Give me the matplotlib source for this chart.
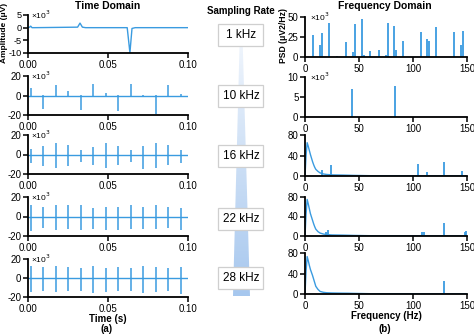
import numpy as np
import matplotlib
matplotlib.use("Agg")
import matplotlib.pyplot as plt
from matplotlib.patches import Rectangle, Polygon
from matplotlib.colors import LinearSegmentedColormap

plt.rcParams['font.family'] = ['Liberation Sans', 'DejaVu Sans']
plt.rcParams['axes.unicode_minus'] = False

# ---------------- data ----------------
sampling_rates = ['1 kHz', '10 kHz', '16 kHz', '22 kHz', '28 kHz']

# Time domain, row 1 (1 kHz), values in x10^3 uV
t_row1 = [0.000, 0.001, 0.0017, 0.0025, 0.004, 0.031, 0.0325, 0.034, 0.036,
          0.062, 0.0637, 0.065, 0.067, 0.100]
v_row1 = [0, 0.2, 0.6, 0, 0, 0.2, 1.8, 0.2, 0, 0, -9.9, -0.3, 0, 0]

# Spike times for rows 2-5 (s)
spike_t = [0.0017, 0.0094, 0.0173, 0.0250, 0.0329, 0.0406, 0.0486, 0.0563,
           0.0642, 0.0719, 0.0798, 0.0875, 0.0954]
spike_hi = [
    [8, 1, 10.5, 5, 1, 11.5, 3, 1, 12, 1, 1, 10.5, 2],
    [5.5, 8.5, 11.7, 10, 5, 7.7, 11.7, 9, 5, 9, 11.5, 10, 5],
    [11.4, 9.7, 11.4, 11.4, 11.4, 8.6, 9.7, 9.7, 11.4, 9.7, 11.4, 9.7, 8.6],
    [12.7, 11.6, 12.7, 11.6, 10.9, 12.7, 10.9, 11.6, 10.9, 12.7, 11.6, 10.9, 11.6],
]
spike_lo = [
    [-1, -14, -1, 0, -15, -1, 0, -16, -1, 0, -18.5, -1, 0],
    [-8.5, -12, -14, -12, -8, -11, -14, -11, -8, -15, -14, -11, -9],
    [-14.5, -12, -13.4, -12.8, -13.4, -12.8, -13.4, -13.4, -12.8, -12.8, -12.8, -12, -13.4],
    [-14.5, -13.8, -14.5, -13.8, -13.8, -15.3, -14.5, -13.8, -13.8, -15.3, -14.5, -13.8, -16.4],
]

# Frequency domain row 1 (x10^3 uV2/Hz)
f_row1 = [7.8, 14, 16, 22, 30, 38, 44, 46, 52.5, 54.7, 60, 68.8, 75, 77, 82.8,
          84.7, 90.6, 107, 113, 115, 121, 137.5, 144, 146]
p_row1 = [28, 15, 30, 43, 1, 19, 6.5, 41, 48, 3, 8, 9, 3, 42.5, 39,
          9, 20, 31, 22, 20.5, 38, 31, 15, 32]
# row 2 (x10^3)
f_row2 = [43.3, 83.6]
p_row2 = [6.9, 7.8]
# rows 3-5: low-frequency curve + peaks
f_curve = [0, 1, 2, 3, 4, 5, 6, 7, 8, 9, 10, 12, 14, 17, 20, 25, 30, 35, 40, 45, 50, 60, 80, 100, 120, 150]
p_curve = [
    [0, 40, 65, 58, 50, 42, 35, 28, 22, 17, 13, 9, 6, 4, 3, 2.2, 2, 1.8, 1.5, 1.2, 1, 0.6, 0.5, 0.4, 0.4, 0.3],
    [0, 45, 75, 66, 56, 46, 39, 32, 25, 19, 14, 9, 6, 4, 3, 2.2, 2, 1.8, 1.5, 1.2, 1, 0.6, 0.5, 0.4, 0.4, 0.3],
    [0, 45, 73, 65, 56, 48, 42, 36, 29, 22, 15, 9, 5, 3.3, 2.5, 2, 1.8, 1.6, 1.5, 1.2, 1, 0.6, 0.5, 0.4, 0.4, 0.3],
]
f_peaks = [
    [16, 24.4, 104.7, 112.8, 120, 129, 145.6],
    [19, 21, 108, 110, 129, 148, 149.5],
    [129],
]
p_peaks = [
    [11, 22, 23, 8, 2, 27, 9],
    [9, 13, 9, 9, 27, 9, 10],
    [25],
]

# ---------------- layout ----------------
W, H = 474, 335
fig = plt.figure(figsize=(W / 100, H / 100), dpi=100)
blue = '#3a9be0'

def px_axes(x0, top, w, h, **kw):
    return fig.add_axes([x0 / W, 1 - (top + h) / H, w / W, h / H], **kw)

def style(ax):
    for s in ['top', 'right']:
        ax.spines[s].set_visible(False)
    for s in ['left', 'bottom']:
        ax.spines[s].set_linewidth(1.3)
    ax.tick_params(direction='out', length=3.5, width=1.1, labelsize=7, pad=1.2)
    ax.patch.set_alpha(0)

left_tops = [15, 76, 135, 197, 259]
left_h = [38, 39, 39, 39, 38]
right_tops = [17, 77, 135, 197, 253]
right_h = [40, 40, 41, 39, 41]

# Left column
for i in range(5):
    ax = px_axes(28, left_tops[i], 160, left_h[i])
    style(ax)
    ax.set_xlim(0, 0.10)
    ax.set_xticks([0, 0.05, 0.10])
    ax.set_xticklabels(['0.00', '0.05', '0.10'])
    if i == 0:
        ax.plot(t_row1, v_row1, color=blue, lw=1.0)
        ax.set_ylim(-10, 5)
        ax.set_yticks([-10, -5, 0, 5])
        ax.tick_params(axis='y', labelsize=6.6)
    else:
        ax.plot([0, 0.1], [0, 0], color=blue, lw=1.0)
        ax.vlines(spike_t, spike_lo[i - 1], spike_hi[i - 1], color=blue, lw=1.1)
        ax.set_ylim(-20, 20)
        ax.set_yticks([-20, 0, 20])
    ax.text(0.02, 1.0, '×10$^3$', transform=ax.transAxes, fontsize=6, va='center', ha='left')
    if i == 4:
        ax.set_xlabel('Time (s)', fontsize=7, fontweight='bold', labelpad=0.5)

# Right column
for i in range(5):
    ax = px_axes(305, right_tops[i], 162, right_h[i])
    style(ax)
    ax.set_xlim(0, 150)
    ax.set_xticks([0, 50, 100, 150])
    ax.plot([0, 150], [0, 0], color=blue, lw=1.0)
    if i == 0:
        ax.vlines(f_row1, 0, p_row1, color=blue, lw=1.3)
        ax.set_ylim(0, 50)
        ax.set_yticks([0, 25, 50])
        ax.text(0.03, 1.0, '×10$^3$', transform=ax.transAxes, fontsize=6, va='center', ha='left')
    elif i == 1:
        ax.vlines(f_row2, 0, p_row2, color=blue, lw=1.3)
        ax.set_ylim(0, 10)
        ax.set_yticks([0, 5, 10])
        ax.text(0.03, 1.0, '×10$^3$', transform=ax.transAxes, fontsize=6, va='center', ha='left')
    else:
        ax.plot(f_curve, p_curve[i - 2], color=blue, lw=1.0)
        ax.vlines(f_peaks[i - 2], 0, p_peaks[i - 2], color=blue, lw=1.3)
        ax.set_ylim(0, 80)
        ax.set_yticks([0, 40, 80])
    if i == 4:
        ax.set_xlabel('Frequency (Hz)', fontsize=7, fontweight='bold', labelpad=0.5)

# Middle: sampling rate wedge and boxes
axm = fig.add_axes([0, 0, 1, 1], zorder=-1)
axm.set_xlim(0, W)
axm.set_ylim(H, 0)
axm.axis('off')
cmap = LinearSegmentedColormap.from_list('w', ['#eef4fc', '#a6c7ee'])
grad = np.linspace(0, 1, 256).reshape(-1, 1)
im = axm.imshow(grad, cmap=cmap, extent=[232, 251, 296, 47], aspect='auto', zorder=1)
poly = Polygon([(239.5, 47), (242.8, 47), (250, 296), (233, 296)], closed=True,
               transform=axm.transData, fc='none', ec='none')
axm.add_patch(poly)
im.set_clip_path(poly)
axm.set_xlim(0, W)
axm.set_ylim(H, 0)

box_y = [35, 96, 156, 219, 278]
for lab, yc in zip(sampling_rates, box_y):
    axm.add_patch(Rectangle((218.5, yc - 11), 45, 22, fc='white', ec='#cfcfcf', lw=0.9, zorder=2))
    axm.text(241, yc, lab, ha='center', va='center', fontsize=8.5, zorder=3)

# Titles and labels
fig.text(108 / W, 1 - 6 / H, 'Time Domain', ha='center', va='center', fontsize=7.5, fontweight='bold')
fig.text(385 / W, 1 - 6 / H, 'Frequency Domain', ha='center', va='center', fontsize=7.5, fontweight='bold')
fig.text(241 / W, 1 - 11 / H, 'Sampling Rate', ha='center', va='center', fontsize=7, fontweight='bold')
fig.text(5 / W, 1 - 33 / H, 'Amplitude (μV)', ha='center', va='center', rotation=90, fontsize=6, fontweight='bold')
fig.text(283 / W, 1 - 36 / H, 'PSD (μV2/Hz)', ha='center', va='center', rotation=90, fontsize=6.2, fontweight='bold')
fig.text(107 / W, 1 - 329.5 / H, '(a)', ha='center', va='center', fontsize=7, fontweight='bold')
fig.text(385 / W, 1 - 329.5 / H, '(b)', ha='center', va='center', fontsize=7, fontweight='bold')

fig.savefig('out.png', dpi=100)
